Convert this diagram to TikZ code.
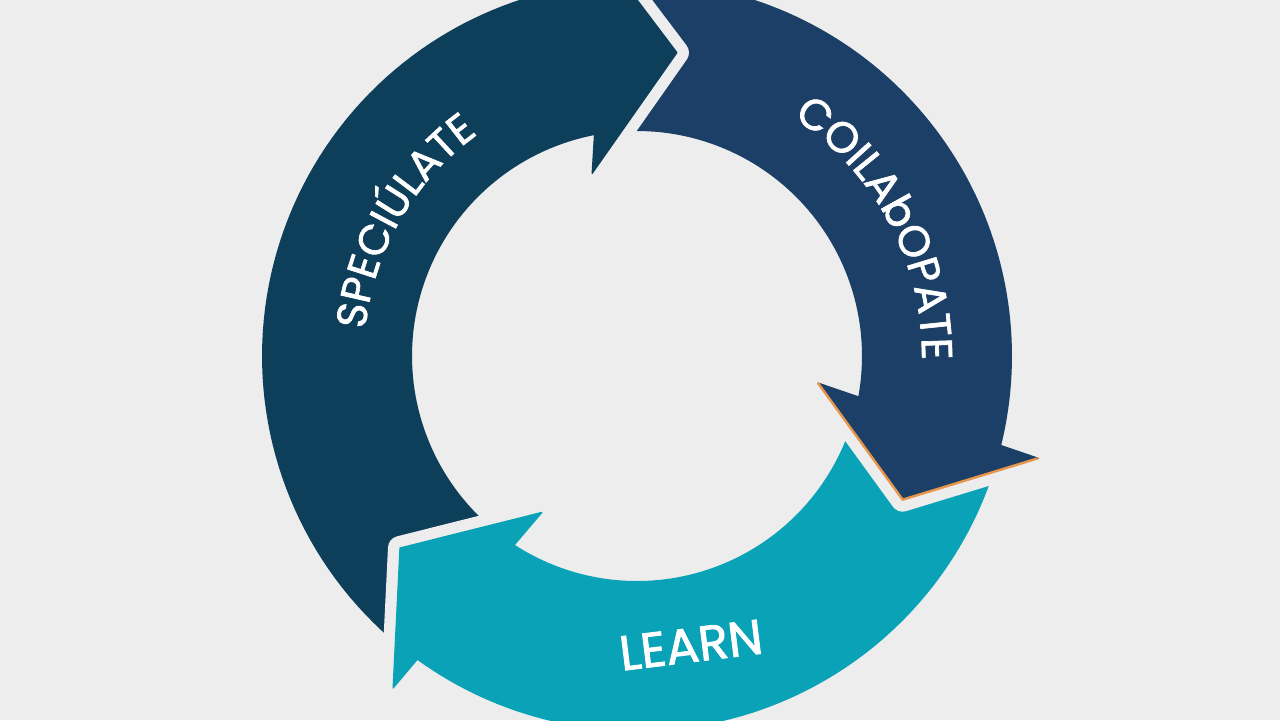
\documentclass[tikz,border=0pt]{standalone}
\usepackage{fontspec}
\newfontfamily\popfont{Poppins}[FakeBold=1.6]
\usetikzlibrary{decorations.text}
\definecolor{bgc}{HTML}{EDEDED}
\definecolor{specc}{HTML}{0D3E5A}
\definecolor{collc}{HTML}{1B3F66}
\definecolor{learnc}{HTML}{0AA2B7}
\definecolor{edgec}{HTML}{E8954A}
\tikzset{
  halo/.style={bgc, line width=12pt, line join=round, line cap=round},
  headfill/.style={fill=#1, draw=#1, line width=0.6pt, line join=round},
  arctext/.style={decorate, decoration={text along path, text align=center, text color=white, text={#1}}}
}
\begin{document}
\begin{tikzpicture}[x=0.5pt,y=-0.5pt]
\fill[bgc] (0,0) rectangle (1280,720);
\useasboundingbox (0,0) rectangle (1280,720);
\clip (0,0) rectangle (1280,720);
\begin{scope}[shift={(637,356)}]
% bodies
\fill[specc] (123.0:225) -- plot[domain=123.0:259.1, samples=80] (\x:225)
  -- (256.2:188) -- (277.5:306) -- (265.4:400) -- (264.86:375)
  -- plot[domain=264.86:125.92, samples=80] (\x:375) -- cycle;
\fill[collc] (259.1:225) -- plot[domain=259.1:370.45, samples=80] (\x:225)
  -- (368.5:183) -- (388.4:302) -- (374.3:414) -- (373.82:375)
  -- plot[domain=373.82:264.86, samples=80] (\x:375) -- cycle;
\fill[learnc] (10.45:225) -- plot[domain=10.45:123.0, samples=80] (\x:225)
  -- (121.3:183) -- (141:305) -- (126.3:412) -- (125.92:375)
  -- plot[domain=125.92:13.82, samples=80] (\x:375) -- cycle;
% head A (speculate)
\draw[halo] (256.2:188) -- (277.5:306) -- (265.4:400);
\path[headfill=specc] (259.1:225) -- (256.2:188) -- (277.5:306) -- (265.4:400) -- (264.86:375) -- cycle;
% head B (collaborate)
\draw[halo] (368.5:183) -- (388.4:302) -- (374.3:414);
\path[headfill=collc] (370.45:225) -- (368.5:183) -- (388.4:302) -- (374.3:414) -- (373.82:375) -- cycle;
\draw[edgec, line width=1.2pt, line join=round] (368.5:183) -- (388.4:302) -- (374.3:414);
% head C (learn)
\draw[halo] (121.3:183) -- (141:305) -- (126.3:412);
\path[headfill=learnc] (123.0:225) -- (121.3:183) -- (141:305) -- (126.3:412) -- (125.92:375) -- cycle;
% labels
\path[arctext={|\popfont\fontsize{21}{21}\selectfont|SPECIÚLATE}] plot[domain=150:270, samples=120] (\x:273);
\path[arctext={|\popfont\fontsize{21.5}{21.5}\selectfont|COILAbOPATE}] plot[domain=272:392, samples=120] (\x:285);
\node[font=\popfont\fontsize{24.5}{24.5}\selectfont, text=white, rotate=7, inner sep=0pt] (learn) at (54,289) {LEARN};
\end{scope}
\end{tikzpicture}
\end{document}
